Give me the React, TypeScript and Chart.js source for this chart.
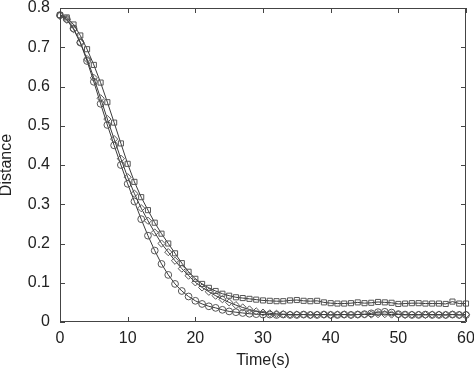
import React, { useEffect, useRef } from "react";
import { Chart, registerables } from "chart.js";

Chart.register(...registerables);

const TIMES = Array.from({ length: 61 }, (_, i) => i);

const CIRCLES = [
  0.782, 0.772, 0.748, 0.712, 0.665, 0.612, 0.556, 0.502, 0.45, 0.4,
  0.352, 0.307, 0.262, 0.22, 0.182, 0.148, 0.12, 0.097, 0.079, 0.065,
  0.054, 0.046, 0.04, 0.036, 0.031, 0.027, 0.025, 0.023, 0.021, 0.02,
  0.019, 0.019, 0.018, 0.019, 0.018, 0.018, 0.019, 0.018, 0.018, 0.019,
  0.018, 0.018, 0.019, 0.018, 0.019, 0.02, 0.022, 0.025, 0.026, 0.024,
  0.02, 0.019, 0.018, 0.018, 0.019, 0.018, 0.018, 0.018, 0.019, 0.018,
  0.018,
];

const DIAMONDS = [
  0.78, 0.77, 0.746, 0.712, 0.67, 0.622, 0.57, 0.517, 0.466, 0.416,
  0.369, 0.327, 0.29, 0.258, 0.228, 0.2, 0.178, 0.156, 0.136, 0.118,
  0.101, 0.088, 0.077, 0.067, 0.058, 0.05, 0.043, 0.037, 0.032, 0.027,
  0.024, 0.022, 0.021, 0.02, 0.019, 0.019, 0.019, 0.018, 0.019, 0.019,
  0.018, 0.019, 0.019, 0.018, 0.019, 0.019, 0.019, 0.02, 0.02, 0.019,
  0.019, 0.018, 0.019, 0.019, 0.018, 0.019, 0.019, 0.018, 0.019, 0.018,
  0.019,
];

const SQUARES = [
  0.782, 0.776, 0.758, 0.73, 0.695, 0.655, 0.61, 0.56, 0.508, 0.455,
  0.403, 0.357, 0.318, 0.285, 0.253, 0.225, 0.2, 0.175, 0.15, 0.128,
  0.11, 0.097, 0.087, 0.079, 0.072, 0.067, 0.063, 0.061, 0.059, 0.057,
  0.055, 0.054, 0.053, 0.053, 0.055, 0.056, 0.054, 0.053, 0.054, 0.05,
  0.048, 0.047, 0.047, 0.048, 0.05, 0.048, 0.049, 0.051, 0.05, 0.049,
  0.046, 0.047, 0.048, 0.048, 0.047, 0.047, 0.047, 0.046, 0.052, 0.047,
  0.047,
];

const X_TICKS = [0, 10, 20, 30, 40, 50, 60];
const Y_TICKS = [0, 0.1, 0.2, 0.3, 0.4, 0.5, 0.6, 0.7, 0.8];

const FONT = "'Liberation Sans', Arial, Helvetica, sans-serif";

const framePlugin = {
  id: "frame",
  afterDatasetsDraw(chart: any) {
    const { ctx, chartArea: a, scales } = chart;
    const x = scales.x;
    const y = scales.y;
    const L = 5;
    ctx.save();
    ctx.strokeStyle = "#444";
    ctx.lineWidth = 1;
    ctx.beginPath();
    ctx.rect(a.left + 0.5, a.top + 0.5, a.right - a.left - 1, a.bottom - a.top - 1);
    X_TICKS.forEach((v) => {
      const px = Math.round(x.getPixelForValue(v)) + 0.5;
      ctx.moveTo(px, a.bottom);
      ctx.lineTo(px, a.bottom - L);
      ctx.moveTo(px, a.top);
      ctx.lineTo(px, a.top + L);
    });
    Y_TICKS.forEach((v) => {
      const py = Math.round(y.getPixelForValue(v)) + 0.5;
      ctx.moveTo(a.left, py);
      ctx.lineTo(a.left + L, py);
      ctx.moveTo(a.right, py);
      ctx.lineTo(a.right - L, py);
    });
    ctx.stroke();
    ctx.restore();
  },
};

function makeSet(values: number[], style: string, radius: number) {
  return {
    data: TIMES.map((t, i) => ({ x: t, y: values[i] })),
    borderColor: "#3a3a3a",
    borderWidth: 1,
    pointStyle: style,
    pointRadius: radius,
    pointBorderColor: "#555",
    pointBackgroundColor: "rgba(0,0,0,0)",
    pointBorderWidth: 1,
    tension: 0,
    clip: false as any,
  };
}

export default function App() {
  const ref = useRef<HTMLCanvasElement>(null);
  useEffect(() => {
    document.body.style.margin = "0";
    const chart = new Chart(ref.current!, {
      type: "line",
      data: {
        datasets: [
          makeSet(SQUARES, "rect", 3.6),
          makeSet(DIAMONDS, "rectRot", 3.6),
          makeSet(CIRCLES, "circle", 3.4),
        ],
      },
      options: {
        animation: false,
        responsive: false,
        layout: { padding: { top: 8, right: 8, left: 0, bottom: 0 } },
        plugins: { legend: { display: false }, tooltip: { enabled: false } },
        scales: {
          x: {
            type: "linear",
            min: 0,
            max: 60,
            grid: { display: false, drawTicks: false },
            border: { display: false },
            afterBuildTicks: (s: any) => {
              s.ticks = X_TICKS.map((v) => ({ value: v }));
            },
            afterFit: (s: any) => {
              s.height = 50;
              s.paddingLeft = 0;
              s.paddingRight = 0;
            },
            ticks: {
              padding: 7,
              color: "#222",
              font: { family: FONT, size: 16 },
              maxRotation: 0,
              autoSkip: false,
            },
            title: {
              display: true,
              text: "Time(s)",
              color: "#222",
              font: { family: FONT, size: 16 },
              padding: { top: 0, bottom: 2 },
            },
          },
          y: {
            type: "linear",
            min: 0,
            max: 0.8,
            grid: { display: false, drawTicks: false },
            border: { display: false },
            afterBuildTicks: (s: any) => {
              s.ticks = Y_TICKS.map((v) => ({ value: v }));
            },
            afterFit: (s: any) => {
              s.width = 60;
              s.paddingTop = 0;
              s.paddingBottom = 0;
            },
            ticks: {
              padding: 10,
              color: "#222",
              font: { family: FONT, size: 16 },
              autoSkip: false,
            },
            title: {
              display: true,
              text: "Distance",
              color: "#222",
              font: { family: FONT, size: 16, lineHeight: 1 },
              padding: { top: -1, bottom: 0 },
            },
          },
        },
      },
      plugins: [framePlugin],
    });
    return () => chart.destroy();
  }, []);
  return (
    <div style={{ width: 474, height: 372 }}>
      <canvas ref={ref} width={474} height={372} />
    </div>
  );
}
